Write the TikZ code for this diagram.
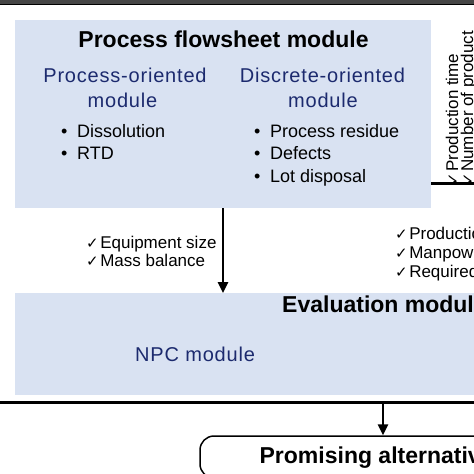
\documentclass[tikz,border=0pt]{standalone}
\usepackage{fontspec}
\setmainfont{Liberation Sans}
\newfontfamily\symf{DejaVu Sans}
\usetikzlibrary{arrows.meta}
\definecolor{boxblue}{RGB}{217,226,242}
\definecolor{navy}{RGB}{28,42,110}
\definecolor{bandgray}{RGB}{70,70,70}
\newcommand{\chk}{{\symf\fontsize{15}{15}\selectfont\char"2713}\hspace{1.5pt}}
\newcommand{\bul}[1]{\makebox[#1][l]{\char"2022}}
\begin{document}
\begin{tikzpicture}[x=1pt,y=-1pt,
  bluebox/.style={fill=boxblue, draw=none, inner sep=0pt},
  titletext/.style={font=\fontsize{23}{27}\selectfont\bfseries, inner sep=0pt},
  subtext/.style={font=\fontsize{20}{24}\selectfont\addfontfeatures{LetterSpace=4}, text=navy, inner sep=0pt},
  bullettext/.style={font=\fontsize{18}{21}\selectfont, inner sep=0pt, anchor=base west},
  labeltext/.style={font=\fontsize{17}{20}\selectfont, inner sep=0pt, anchor=base west},
  thickline/.style={line width=3pt},
  arr/.style={line width=2.5pt, -{Triangle[length=11pt,width=10pt]}},
  roundbox/.style={draw, line width=1.5pt, rounded corners=14pt, inner sep=0pt}
]
\useasboundingbox (0,0) rectangle (474,474);
\clip (0,0) rectangle (474,474);
\fill[white] (0,0) rectangle (474,474);
% top band
\fill[bandgray] (0,0) rectangle (474,4);
\draw[line width=1.2pt] (0,4.3) -- (474,4.3);

% process flowsheet module box
\node[bluebox, minimum width=416pt, minimum height=188pt, anchor=north west] (pfs) at (15,20) {};
\node[titletext, anchor=base] (pfstitle) at (223.5,47) {Process flowsheet module};
\node[subtext, anchor=base] (po1) at (125,82.5) {Process-oriented};
\node[subtext, anchor=base] (po2) at (122.5,107) {module};
\node[subtext, anchor=base] (do1) at (322.5,82.5) {Discrete-oriented};
\node[subtext, anchor=base] (do2) at (323,107) {module};
\node[bullettext] (b1) at (61,137) {\bul{16pt}Dissolution};
\node[bullettext] (b2) at (61,159.5) {\bul{16pt}RTD};
\node[bullettext] (b3) at (254,137) {\bul{16pt}Process residue};
\node[bullettext] (b4) at (254,159.5) {\bul{16pt}Defects};
\node[bullettext] (b5) at (254,182) {\bul{16pt}Lot disposal};

% right rotated labels and line
\node[labeltext, rotate=90] (rt1) at (458,186) {\chk Production time};
\node[labeltext, rotate=90] (rt2) at (473,186) {\chk Number of product};
\coordinate (rl1) at (431,183);
\coordinate (rl2) at (480,183);
\draw[thickline] (rl1) -- (rl2);

% evaluation module box
\node[bluebox, minimum width=480pt, minimum height=102pt, anchor=north west] (eval) at (15,293) {};
\node[titletext, anchor=base west] (evaltitle) at (282,312) {Evaluation module};
\node[subtext, anchor=base west] (npc) at (135,361) {NPC module};

% arrow between modules
\coordinate (ax) at (223,0);
\draw[arr] (pfs.south -| ax) -- (eval.north -| ax);
\node[labeltext] (l1) at (86,248) {\chk Equipment size};
\node[labeltext] (l2) at (86,266.5) {\chk Mass balance};
\node[labeltext] (r1) at (395,239) {\chk Production time};
\node[labeltext] (r2) at (395,258) {\chk Manpower};
\node[labeltext] (r3) at (395,277) {\chk Required};

% bottom line and result
\coordinate (hl0) at (0,402);
\coordinate (hl1) at (474,402);
\draw[thickline] (hl0) -- (hl1);
\coordinate (hx) at (383,402);
\node[roundbox, minimum width=366pt, minimum height=42pt] (prom) at (383,457) {};
\node[titletext, anchor=base] (promtext) at (383,463.5) {Promising alternatives};
\draw[arr] (hx) -- (prom.north);
\end{tikzpicture}
\end{document}
